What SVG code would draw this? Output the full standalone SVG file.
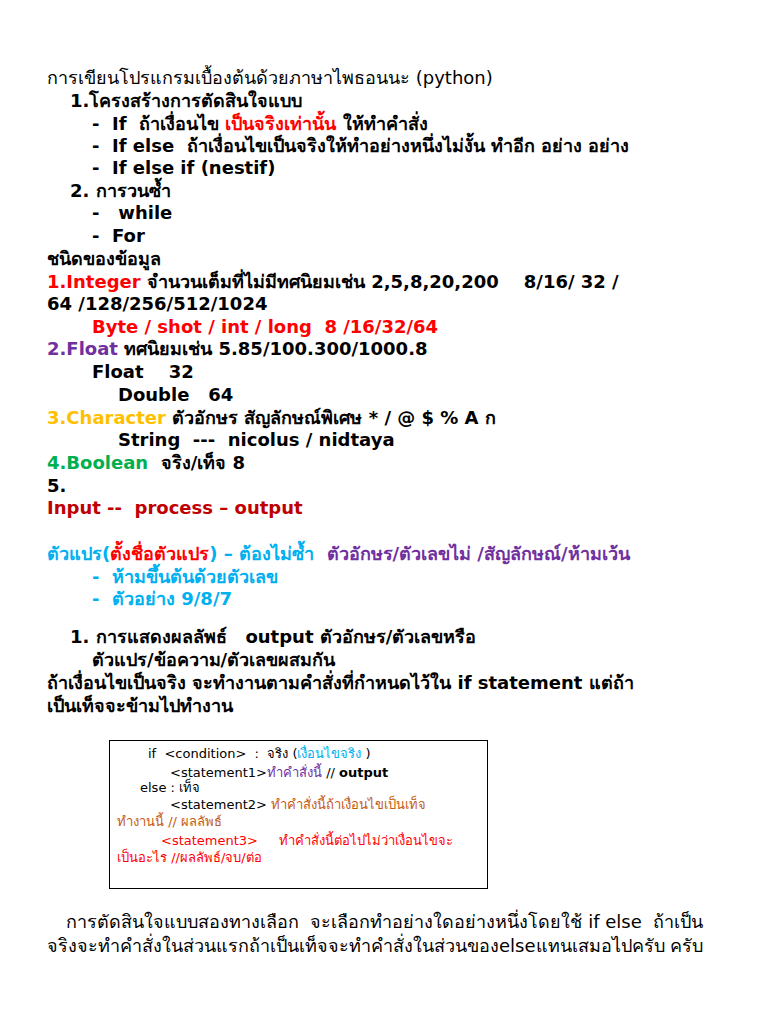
<svg xmlns="http://www.w3.org/2000/svg" width="768" height="1024" viewBox="0 0 768 1024" xml:space="preserve">
<style>
text{font-family:"DejaVu Sans","Noto Sans",sans-serif;font-size:18px;font-weight:bold;fill:#000;white-space:pre}
.n{font-weight:normal}
.s{font-size:13px;font-weight:normal}
.r{fill:#ff0000}.p{fill:#7030a0}.o{fill:#ffc000}.g{fill:#00b050}.d{fill:#c00000}.c{fill:#00b0f0}.b{fill:#c55a11}
</style>
<rect width="768" height="1024" fill="#fff"/>
<text x="47" y="84" class="n">การเขียนโปรแกรมเบื้องต้นด้วยภาษาไพธอนนะ (python)</text>
<text x="70" y="107">1.โครงสร้างการตัดสินใจแบบ</text>
<text x="92" y="130">-  If  ถ้าเงื่อนไข <tspan class="r">เป็นจริงเท่านั้น</tspan> ให้ทำคำสั่ง</text>
<text x="92" y="152">-  If else  ถ้าเงื่อนไขเป็นจริงให้ทำอย่างหนึ่งไม่งั้น ทำอีก อย่าง อย่าง</text>
<text x="92" y="174">-  If else if (nestif)</text>
<text x="70" y="197">2. การวนซ้ำ</text>
<text x="92" y="219">-   while</text>
<text x="92" y="242">-  For</text>
<text x="47" y="265">ชนิดของข้อมูล</text>
<text x="47" y="288"><tspan class="r">1.Integer</tspan> จำนวนเต็มที่ไม่มีทศนิยมเช่น 2,5,8,20,200    8/16/ 32 /</text>
<text x="47" y="310">64 /128/256/512/1024</text>
<text x="92" y="333" class="r">Byte / shot / int / long  8 /16/32/64</text>
<text x="47" y="355"><tspan class="p">2.Float</tspan> ทศนิยมเช่น 5.85/100.300/1000.8</text>
<text x="92" y="378">Float    32</text>
<text x="118" y="401">Double   64</text>
<text x="47" y="424"><tspan class="o">3.Character</tspan> ตัวอักษร สัญลักษณ์พิเศษ * / @ $ % A ก</text>
<text x="118" y="446">String  ---  nicolus / nidtaya</text>
<text x="47" y="469"><tspan class="g">4.Boolean</tspan>  จริง/เท็จ 8</text>
<text x="47" y="492">5.</text>
<text x="47" y="514" class="d">Input --  process – output</text>
<text x="47" y="560" class="c">ตัวแปร(<tspan class="r">ตั้งชื่อตัวแปร</tspan>) – ต้องไม่ซ้ำ  <tspan class="p">ตัวอักษร/ตัวเลขไม่ /สัญลักษณ์/ห้ามเว้น</tspan></text>
<text x="92" y="583" class="c">-  ห้ามขึ้นต้นด้วยตัวเลข</text>
<text x="92" y="605" class="c">-  ตัวอย่าง 9/8/7</text>
<text x="70" y="643">1. การแสดงผลลัพธ์   output ตัวอักษร/ตัวเลขหรือ</text>
<text x="92" y="666">ตัวแปร/ข้อความ/ตัวเลขผสมกัน</text>
<text x="47" y="689">ถ้าเงื่อนไขเป็นจริง จะทำงานตามคำสั่งที่กำหนดไว้ใน if statement แต่ถ้า</text>
<text x="47" y="712">เป็นเท็จจะข้ามไปทำงาน</text>
<rect x="109.500" y="740.500" width="378" height="148" fill="none" stroke="#000"/>
<text x="148" y="758" class="s">if  &lt;condition&gt;  :  จริง (<tspan class="c">เงื่อนไขจริง</tspan> )</text>
<text x="170" y="777" class="s">&lt;statement1&gt;<tspan class="p">ทำคำสั่งนี้</tspan> // <tspan font-weight="bold">output</tspan></text>
<text x="140" y="792" class="s">else : เท็จ</text>
<text x="170" y="809" class="s">&lt;statement2&gt; <tspan class="b">ทำคำสั่งนี้ถ้าเงื่อนไขเป็นเท็จ</tspan></text>
<text x="117" y="826" class="s b">ทำงานนี้ // ผลลัพธ์</text>
<text x="161" y="845" class="s r">&lt;statement3&gt;     ทำคำสั่งนี้ต่อไปไม่ว่าเงื่อนไขจะ</text>
<text x="117" y="862" class="s r">เป็นอะไร //ผลลัพธ์/จบ/ต่อ</text>
<text x="66" y="928" class="n">การตัดสินใจแบบสองทางเลือก  จะเลือกทำอย่างใดอย่างหนึ่งโดยใช้ if else  ถ้าเป็น</text>
<text x="47" y="952" class="n">จริงจะทำคำสั่งในส่วนแรกถ้าเป็นเท็จจะทำคำสั่งในส่วนของelseแทนเสมอไปครับ ครับ</text>
</svg>
